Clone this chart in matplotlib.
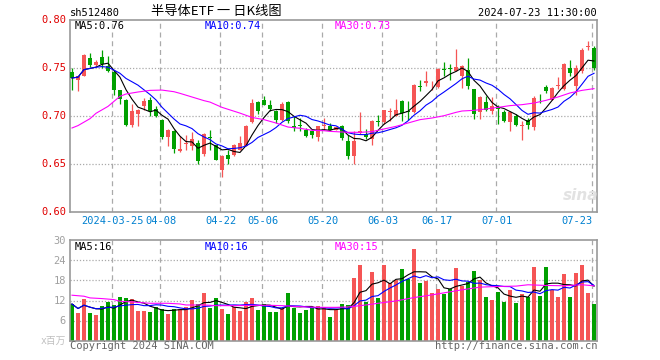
import numpy as np
import pandas as pd
import matplotlib
matplotlib.use('Agg')
import matplotlib.pyplot as plt

plt.rcParams['font.family'] = ['DejaVu Sans Mono', 'Noto Sans CJK SC']

# daily K data, 2024-03-14 .. 2024-07-23 (88 trading days)
opens = [0.7458, 0.7372, 0.7420, 0.7604, 0.7531, 0.7615, 0.7524, 0.7458, 0.7267, 0.7170,
         0.6910, 0.7024, 0.7101, 0.7170, 0.7076, 0.6962, 0.6781, 0.6847, 0.6635, 0.6705,
         0.6691, 0.6719, 0.6605, 0.6775, 0.6701, 0.6441, 0.6590, 0.6597, 0.6649, 0.6691,
         0.6934, 0.7149, 0.7170, 0.7118, 0.7049, 0.6962, 0.7149, 0.6899, 0.6910, 0.6851,
         0.6840, 0.6778, 0.6899, 0.6899, 0.6858, 0.6899, 0.6743, 0.6587, 0.6823, 0.6813,
         0.6760, 0.6946, 0.6934, 0.7040, 0.7003, 0.7160, 0.7056, 0.7038, 0.7309, 0.7344,
         0.7340, 0.7299, 0.7490, 0.7500, 0.7472, 0.7413, 0.7483, 0.7281, 0.7038, 0.7149,
         0.7049, 0.7080, 0.7042, 0.6938, 0.7003, 0.6899, 0.6955, 0.6882, 0.7170, 0.7302,
         0.7170, 0.7309, 0.7281, 0.7500, 0.7309, 0.7465, 0.7722, 0.7708]
highs = [0.7497, 0.7420, 0.7645, 0.7656, 0.7580, 0.7691, 0.7628, 0.7483, 0.7270, 0.7172,
         0.7125, 0.7073, 0.7191, 0.7198, 0.7100, 0.6965, 0.6865, 0.6858, 0.6788, 0.6806,
         0.6833, 0.6753, 0.6823, 0.6858, 0.6701, 0.6597, 0.6649, 0.6712, 0.6795, 0.6910,
         0.7177, 0.7153, 0.7212, 0.7170, 0.7059, 0.7142, 0.7153, 0.6997, 0.6979, 0.6875,
         0.6858, 0.6900, 0.6979, 0.6927, 0.6890, 0.6910, 0.6806, 0.6840, 0.7038, 0.6865,
         0.6962, 0.7014, 0.7062, 0.7083, 0.7181, 0.7162, 0.7156, 0.7337, 0.7378, 0.7472,
         0.7361, 0.7500, 0.7563, 0.7545, 0.7698, 0.7527, 0.7604, 0.7283, 0.7205, 0.7205,
         0.7198, 0.7118, 0.7066, 0.7049, 0.7024, 0.6944, 0.6979, 0.7205, 0.7233, 0.7326,
         0.7299, 0.7406, 0.7552, 0.7580, 0.7535, 0.7708, 0.7778, 0.7726]
lows = [0.7276, 0.7257, 0.7415, 0.7510, 0.7517, 0.7500, 0.7458, 0.7222, 0.7125, 0.6900,
        0.6885, 0.6892, 0.7059, 0.7003, 0.6990, 0.6764, 0.6684, 0.6615, 0.6622, 0.6649,
        0.6649, 0.6503, 0.6580, 0.6649, 0.6538, 0.6360, 0.6503, 0.6587, 0.6642, 0.6684,
        0.6927, 0.7024, 0.7115, 0.7049, 0.6927, 0.6944, 0.6927, 0.6840, 0.6840, 0.6781,
        0.6771, 0.6736, 0.6858, 0.6851, 0.6850, 0.6747, 0.6556, 0.6500, 0.6816, 0.6764,
        0.6701, 0.6899, 0.6920, 0.6944, 0.6997, 0.6944, 0.6962, 0.7031, 0.7257, 0.7316,
        0.7274, 0.7292, 0.7420, 0.7378, 0.7465, 0.7292, 0.7281, 0.6972, 0.6972, 0.7056,
        0.7024, 0.6917, 0.6938, 0.6840, 0.6900, 0.6753, 0.6865, 0.6858, 0.7135, 0.7240,
        0.7163, 0.7281, 0.7274, 0.7413, 0.7222, 0.7448, 0.7691, 0.7476]
closes = [0.7396, 0.7413, 0.7639, 0.7535, 0.7559, 0.7545, 0.7472, 0.7267, 0.7177, 0.6910,
          0.7049, 0.7059, 0.7153, 0.7049, 0.6997, 0.6781, 0.6858, 0.6660, 0.6653, 0.6715,
          0.6764, 0.6528, 0.6813, 0.6770, 0.6545, 0.6580, 0.6556, 0.6701, 0.6719, 0.6899,
          0.7135, 0.7049, 0.7118, 0.7076, 0.6962, 0.7128, 0.6944, 0.6875, 0.6892, 0.6788,
          0.6799, 0.6899, 0.6910, 0.6858, 0.6885, 0.6771, 0.6580, 0.6736, 0.6840, 0.6781,
          0.6951, 0.6940, 0.7059, 0.7049, 0.7066, 0.7031, 0.7038, 0.7326, 0.7299, 0.7368,
          0.7344, 0.7493, 0.7483, 0.7493, 0.7507, 0.7524, 0.7309, 0.7024, 0.7198, 0.7066,
          0.7108, 0.7073, 0.6944, 0.7042, 0.6910, 0.6906, 0.6906, 0.7188, 0.7163, 0.7257,
          0.7292, 0.7326, 0.7542, 0.7448, 0.7500, 0.7691, 0.7726, 0.7500]
# volume, millions
volumes = [11.0, 8.3, 12.6, 8.3, 7.7, 10.4, 11.6, 10.7, 13.1, 12.8,
           12.5, 8.9, 8.9, 8.6, 10.1, 9.5, 8.0, 9.5, 9.5, 10.1,
           12.2, 11.0, 14.2, 9.8, 12.8, 9.5, 8.0, 10.1, 8.9, 11.6,
           12.8, 9.2, 11.0, 8.6, 8.6, 9.8, 14.2, 9.8, 8.3, 9.2,
           9.8, 10.4, 10.1, 7.1, 9.2, 11.0, 10.7, 18.8, 22.7, 11.6,
           20.6, 12.8, 22.7, 17.3, 18.2, 21.5, 18.5, 27.3, 17.3, 17.9,
           14.3, 15.5, 14.0, 15.5, 21.8, 16.4, 17.6, 20.9, 18.2, 13.1,
           12.2, 14.6, 11.6, 15.2, 11.3, 14.0, 13.1, 22.1, 13.4, 22.1,
           15.2, 13.1, 20.0, 13.1, 20.3, 22.7, 14.3, 11.0]

# MA30 lines (need data before the window)
ma30_idx = [0, 1, 3, 4, 6, 8, 9, 11, 13, 15, 17, 18, 20, 22, 23, 25, 28, 30, 32, 34, 36, 38,
            40, 42, 43, 46, 48, 50, 52, 54, 56, 58, 60, 62, 64, 65, 67, 69, 71, 73, 75, 77,
            79, 81, 83, 85, 87]
ma30_val = [0.6875, 0.6900, 0.6972, 0.7028, 0.7100, 0.7205, 0.7229, 0.7250, 0.7267, 0.7270,
            0.7253, 0.7236, 0.7198, 0.7160, 0.7145, 0.7090, 0.7030, 0.6985, 0.6962, 0.6927,
            0.6885, 0.6872, 0.6851, 0.6847, 0.6840, 0.6830, 0.6830, 0.6837, 0.6865, 0.6892,
            0.6927, 0.6962, 0.6979, 0.7003, 0.7038, 0.7052, 0.7059, 0.7073, 0.7090, 0.7108,
            0.7118, 0.7135, 0.7163, 0.7198, 0.7240, 0.7267, 0.7285]
vma30_idx = [0, 2, 3, 5, 7, 8, 10, 13, 16, 18, 19, 22, 24, 27, 30, 33, 35, 38, 41, 44, 46, 49,
             51, 54, 57, 60, 62, 65, 68, 71, 74, 76, 79, 82, 85, 87]
vma30_val = [13.6, 13.3, 12.8, 12.6, 12.3, 11.8, 11.6, 11.2, 11.2, 11.0, 10.7, 10.7, 10.5, 10.5,
             10.6, 10.6, 10.5, 10.2, 10.0, 10.0, 10.1, 10.7, 11.2, 11.9, 12.9, 13.7, 14.3, 15.2,
             16.0, 16.2, 16.3, 16.7, 16.5, 16.4, 16.7, 16.4]

tick_idx = [7, 15, 25, 32, 42, 52, 61, 71, 87]
tick_labels = ['2024-03-25', '04-08', '04-22', '05-06', '05-20', '06-03', '06-17', '07-01', '07-23']

RED = '#f55555'
GREEN = '#00a000'
GRID = '#aaaaaa'
W, H = 660, 360

o = np.array(opens); c = np.array(closes)
hi = np.array(highs); lo = np.array(lows)
vol = np.array(volumes)
x = np.arange(len(c))
up = c >= o
cols = np.where(up, RED, GREEN)

fig = plt.figure(figsize=(6.6, 3.6), dpi=100)
fig.patch.set_facecolor('white')

def px_ax(l, t, r, b):
    return fig.add_axes([l / W, 1 - b / H, (r - l) / W, (b - t) / H])

ax = px_ax(70, 20, 597, 212)
axv = px_ax(70, 240, 597, 341)

for a in (ax, axv):
    a.set_xlim(-0.33, 87.5)
    a.set_xticks([])
    a.set_yticks([])
    for s in a.spines.values():
        s.set_color('#999999')
        s.set_linewidth(1.2)
    for t in tick_idx:
        a.axvline(t - 0.25, color=GRID, lw=0.9, ls=(0, (4, 3)), zorder=0)

ax.set_ylim(0.60, 0.80)
for yv in [0.65, 0.70, 0.75]:
    ax.axhline(yv, color=GRID, lw=0.9, ls=(0, (1, 1.5)), zorder=0)
axv.set_ylim(0, 30)
for yv in [6, 12, 18, 24]:
    axv.axhline(yv, color=GRID, lw=0.9, ls=(0, (1, 1.5)), zorder=0)

# candles
ax.vlines(x, lo, hi, colors=cols, lw=0.9, zorder=2)
body = np.maximum(np.abs(c - o), 0.0008)
ax.bar(x, body, bottom=np.minimum(o, c), width=0.75, color=cols, zorder=3, linewidth=0)

cs = pd.Series(c)
ax.plot(x, cs.rolling(5, min_periods=1).mean(), color='black', lw=0.8, zorder=4)
ax.plot(x, cs.rolling(10, min_periods=1).mean(), color='blue', lw=0.8, zorder=4)
ax.plot(ma30_idx, ma30_val, color='magenta', lw=0.8, zorder=4)

# volume
axv.bar(x, vol, width=0.75, color=cols, linewidth=0, zorder=2)
vs = pd.Series(vol)
axv.plot(x, vs.rolling(5, min_periods=1).mean(), color='black', lw=0.8, zorder=4)
axv.plot(x, vs.rolling(10, min_periods=1).mean(), color='blue', lw=0.8, zorder=4)
axv.plot(vma30_idx, vma30_val, color='magenta', lw=0.8, zorder=4)

def ftext(px, py, s, **kw):
    fig.text(px / W, 1 - py / H, s, **kw)

fs = 7.5
ftext(70, 13, 'sh512480', fontsize=fs, va='center', ha='left', color='black')
ftext(216, 12, '半导体ETF 一 日K线图', fontsize=9.5, va='center', ha='center',
      color='black', family=['Noto Sans CJK SC', 'DejaVu Sans'])
ftext(597, 13, '2024-07-23 11:30:00', fontsize=fs, va='center', ha='right', color='black')

for yv, lab in zip([0.80, 0.75, 0.70, 0.65, 0.60], ['0.80', '0.75', '0.70', '0.65', '0.60']):
    py = 20 + (0.80 - yv) * 960
    ftext(66, py, lab, fontsize=fs, va='center', ha='right', color='#e00000')
for yv in [30, 24, 18, 12, 6]:
    py = 340.7 - yv * 20 / 6
    ftext(66, py, str(yv), fontsize=fs, va='center', ha='right', color='#a0a0a0')
ftext(66, 341, 'x百万', fontsize=7, va='center', ha='right', color='#c0c0c0',
      family=['DejaVu Sans Mono', 'Noto Sans CJK SC'])

ftext(75, 26, 'MA5:0.76', fontsize=fs, va='center', color='black')
ftext(205, 26, 'MA10:0.74', fontsize=fs, va='center', color='blue')
ftext(335, 26, 'MA30:0.73', fontsize=fs, va='center', color='magenta')
ftext(75, 247, 'MA5:16', fontsize=fs, va='center', color='black')
ftext(205, 247, 'MA10:16', fontsize=fs, va='center', color='blue')
ftext(335, 247, 'MA30:15', fontsize=fs, va='center', color='magenta')

for t, lab in zip(tick_idx, tick_labels):
    px = 72 + 6 * t - 1.5
    if t == tick_idx[-1]:
        ftext(px, 221, lab, fontsize=fs, va='center', ha='right', color='#0080d0')
    else:
        ftext(px, 221, lab, fontsize=fs, va='center', ha='center', color='#0080d0')

ftext(70, 346, 'Copyright 2024 SINA.COM', fontsize=fs, va='center', ha='left', color='#666666')
ftext(597, 346, 'http://finance.sina.com.cn', fontsize=fs, va='center', ha='right', color='#666666')
ftext(581, 196, 'sina', fontsize=11, va='center', ha='center', color='#e2e2e2',
      style='italic', weight='bold', family='DejaVu Sans')

fig.savefig('out.png', dpi=100)
